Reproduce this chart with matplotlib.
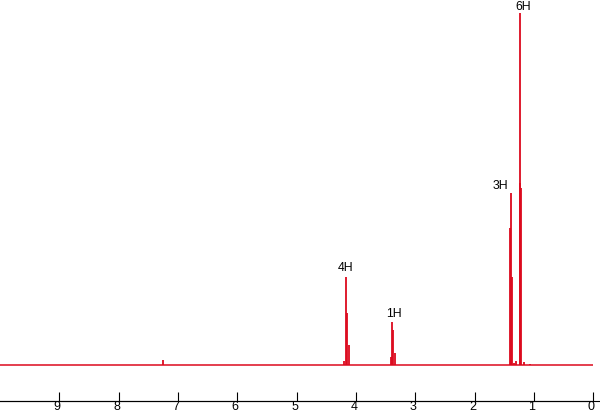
import matplotlib
matplotlib.use("Agg")
import matplotlib.pyplot as plt
from matplotlib.lines import Line2D
from matplotlib.transforms import ScaledTranslation

# ---- data (chemical shift in ppm, relative intensity; tallest line = 100) ----
line_ppm = [7.255,
            4.210, 4.163, 4.150, 4.124,
            3.413, 3.386, 3.372, 3.349,
            1.399, 1.387, 1.376,
            1.300, 1.335, 1.240, 1.230, 1.219, 1.160, 1.075]
line_int = [1.4,
            1.0, 25.0, 14.8, 5.7,
            2.3, 12.2, 9.9, 3.4,
            38.9, 48.9, 25.0,
            1.1, 0.6, 51.7, 100.0, 50.3, 0.8, 0.4]

labels = ["6H", "3H", "4H", "1H"]
label_ppm = [1.185, 1.562, 4.177, 3.368]
label_y = [101.0, 50.1, 26.8, 13.5]

tick_vals = [9, 8, 7, 6, 5, 4, 3, 2, 1, 0]

RED = "#dc0a1e"
plt.rcParams["font.family"] = ["Liberation Sans", "DejaVu Sans"]

W, H = 600, 412
fig = plt.figure(figsize=(W / 100, H / 100), dpi=100)
ax = fig.add_axes([0, 11 / H, 593.3 / W, 1 - 11 / H])

ax.axhline(0, color=RED, lw=1.1)
ax.vlines(line_ppm, 0, line_int, color=RED, lw=1.3)

for t, x, y in zip(labels, label_ppm, label_y):
    ax.text(x, y, t, ha="center", va="baseline", fontsize=8.8, color="black")

ax.set_xlim(10, 0)
ax.set_ylim(-10.23, 103.7)
ax.set_xticks(tick_vals)
ax.set_xticklabels([str(v) for v in tick_vals])
ax.set_yticks([])
for s in ["top", "left", "right"]:
    ax.spines[s].set_visible(False)
ax.spines["bottom"].set_linewidth(0.8)
ax.spines["bottom"].set_color("black")
ax.tick_params(axis="x", direction="in", length=6.5, width=0.8, pad=0.3,
               labelsize=9, colors="black")
off = ScaledTranslation(-2 / 100, 0, fig.dpi_scale_trans)
for lab in ax.get_xticklabels():
    lab.set_transform(lab.get_transform() + off)
ax.patch.set_visible(False)

fig.add_artist(Line2D([0, 1], [11.5 / H, 11.5 / H], transform=fig.transFigure,
                      color="black", lw=0.8))

fig.savefig("out.png", dpi=100, facecolor="white")
